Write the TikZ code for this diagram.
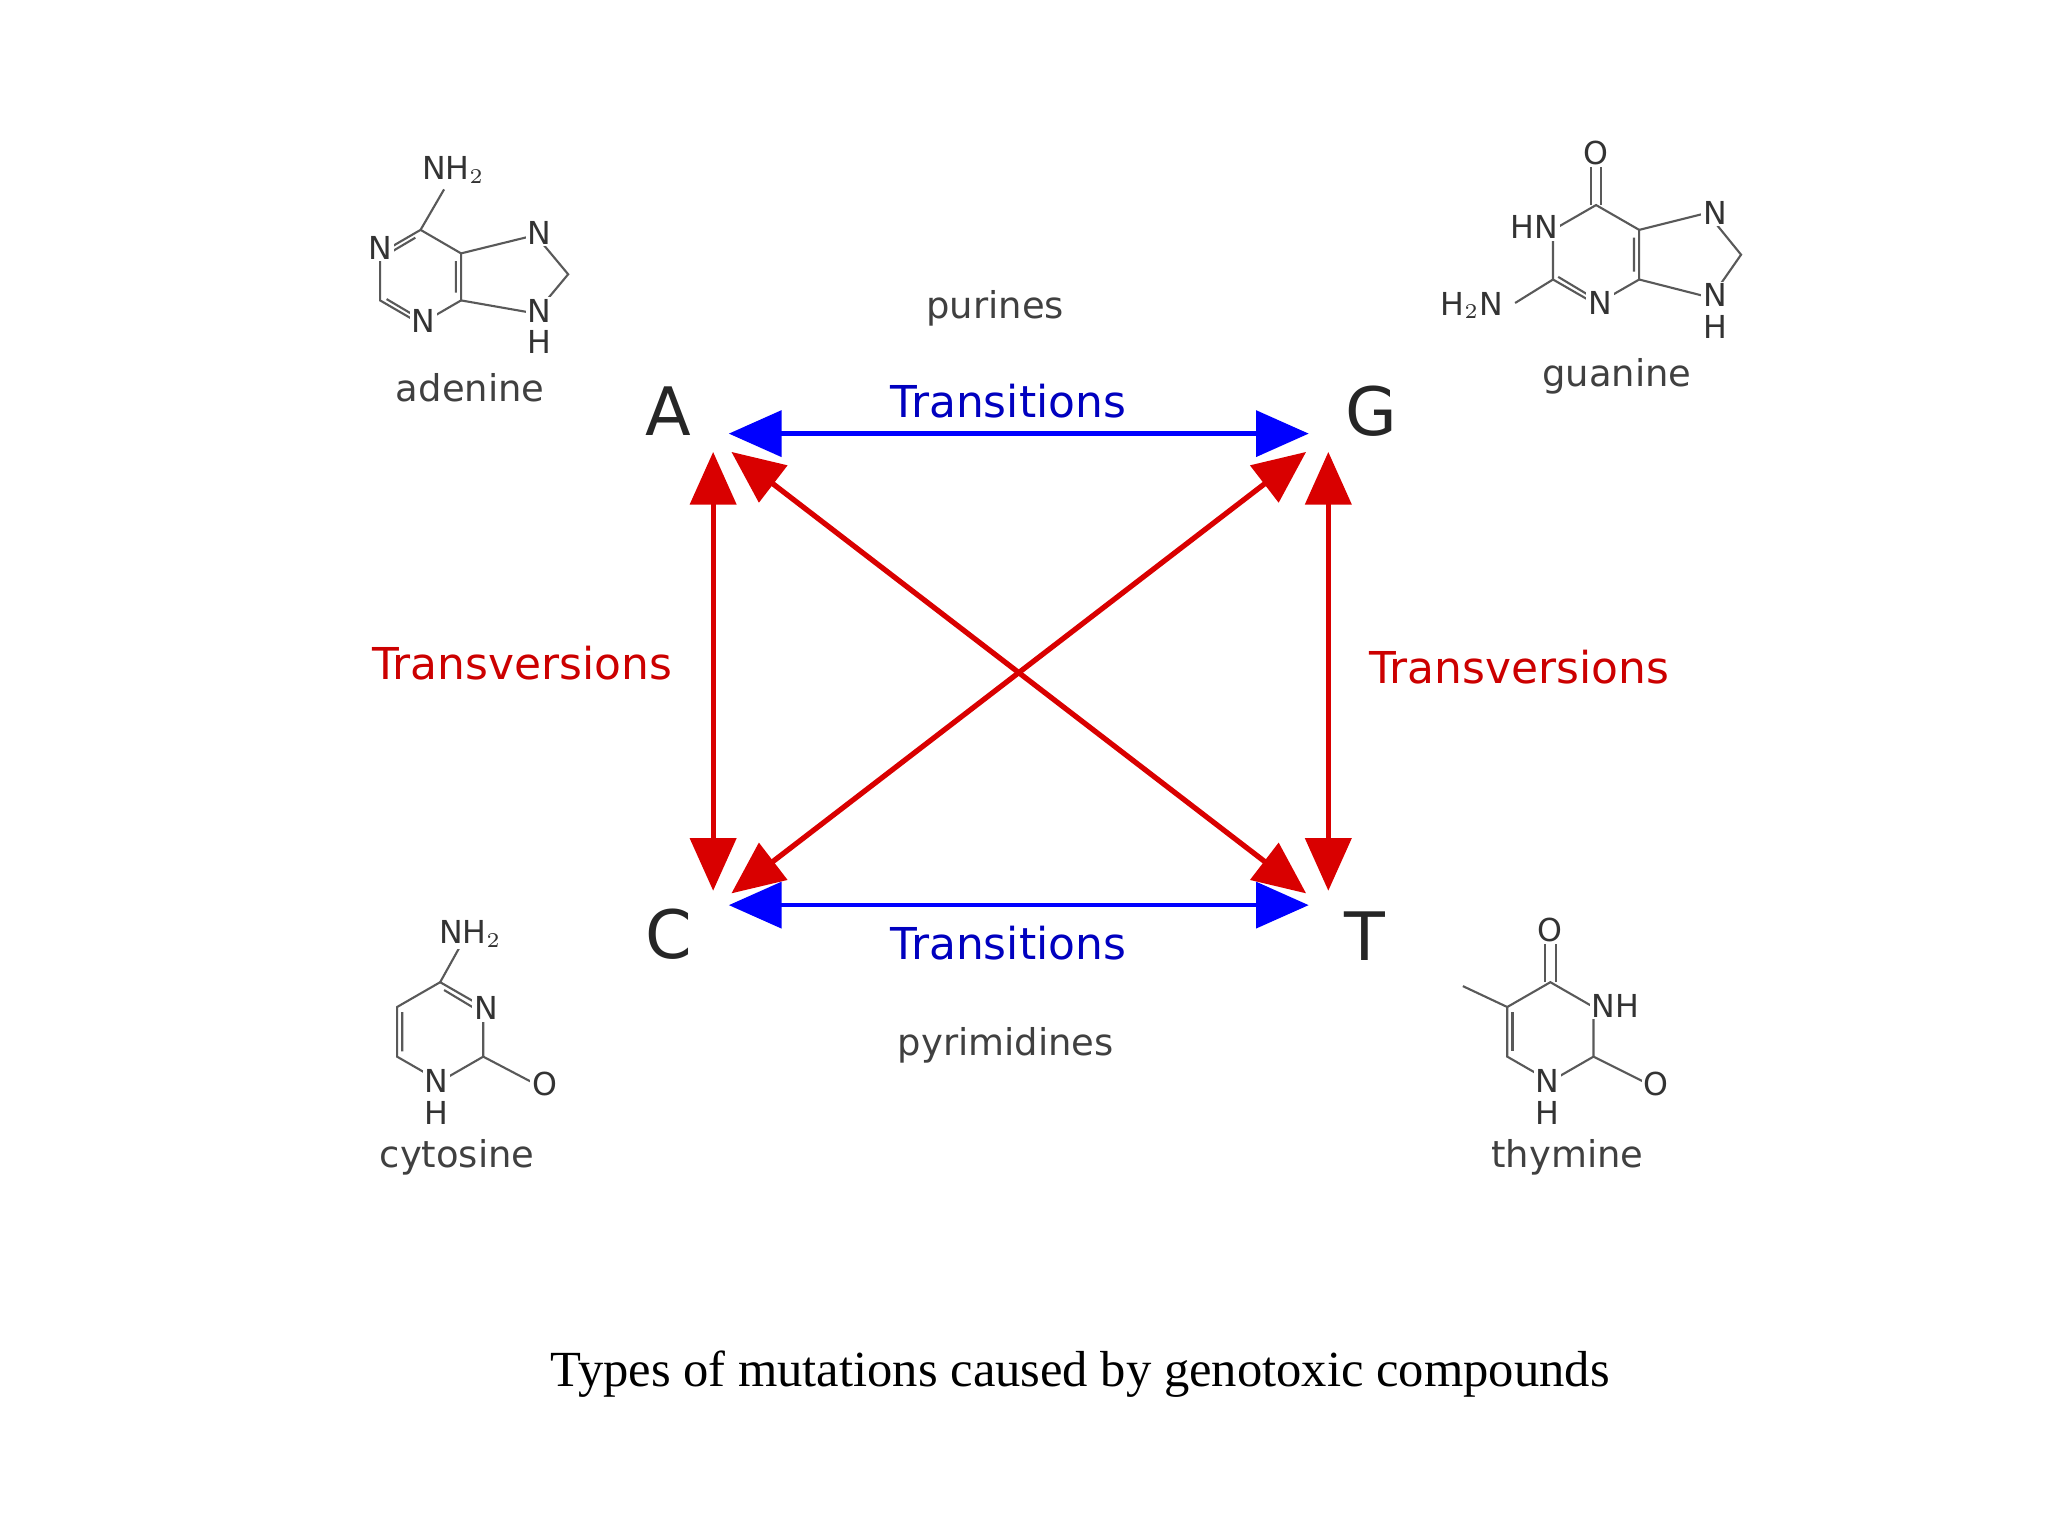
\documentclass[tikz,border=0pt]{standalone}
\usepackage{fontspec}
\setmainfont{Liberation Serif}
\newfontfamily\djsans{DejaVu Sans}
\usetikzlibrary{arrows.meta}
\begin{document}
\begin{tikzpicture}[x=0.01306cm,y=-0.01306cm,
  base/.style={font=\djsans\fontsize{19}{19}\selectfont,text=black!85},
  lbl/.style={font=\djsans\fontsize{10.5}{12}\selectfont,text=black!75},
  atom/.style={font=\djsans\fontsize{9}{10}\selectfont,text=black!80,inner sep=0.5pt,fill=white},
  stk/.style={font=\djsans\fontsize{9}{9}\selectfont,text=black!80,inner sep=0.5pt,fill=white,align=center},
  bond/.style={black!65,line width=0.6pt},
  blu/.style={blue,line width=1.3pt,{Triangle[length=15pt,width=13pt]}-{Triangle[length=15pt,width=13pt]}},
  rd/.style={red!85!black,line width=1.5pt,{Triangle[length=15pt,width=13pt]}-{Triangle[length=15pt,width=13pt]}},
  tb/.style={font=\djsans\fontsize{12.5}{14}\selectfont,text=blue!75!black},
  tr/.style={font=\djsans\fontsize{12.5}{14}\selectfont,text=red!80!black}]
\useasboundingbox (0,0) rectangle (1568,1176);
\node[base] (A) at (512,315) {A};
\node[base] (G) at (1050,315) {G};
\node[base] (C) at (512,715) {C};
\node[base] (T) at (1045,717) {T};
\coordinate (a1) at (558,332); \coordinate (g1) at (1002,332);
\coordinate (c1) at (558,693); \coordinate (t1) at (1002,693);
\coordinate (a2) at (546,346); \coordinate (c2) at (546,682);
\coordinate (g2) at (1017,346); \coordinate (t2) at (1017,682);
\coordinate (a3) at (560,346); \coordinate (t3) at (1000,684);
\coordinate (g3) at (1000,346); \coordinate (c3) at (560,684);
\draw[blu] (a1) -- (g1);
\draw[blu] (c1) -- (t1);
\draw[rd] (a2) -- (c2);
\draw[rd] (g2) -- (t2);
\draw[rd] (a3) -- (t3);
\draw[rd] (g3) -- (c3);
\node[tb] (t1l) at (772,307) {Transitions};
\node[tb] (t2l) at (772,722) {Transitions};
\node[tr] (v1) at (400,508) {Transversions};
\node[tr] (v2) at (1163,511) {Transversions};
\node[lbl] (pu) at (762,236) {purines};
\node[lbl] (py) at (770,800) {pyrimidines};
\node[lbl] (ad) at (360,297) {adenine};
\node[lbl] (gu) at (1238,288) {guanine};
\node[lbl] (cy) at (350,886) {cytosine};
\node[lbl] (th) at (1200,886) {thymine};
\node[font=\fontsize{14.4}{16}\selectfont] (cap) at (827,1052) {Types of mutations caused by genotoxic compounds};
% adenine
\draw[bond] (322,176)--(353,194)--(353,230)--(322,248)--(291,230)--(291,194)--cycle;
\draw[bond] (318,182)--(296,195) (349,200)--(349,224) (318,242)--(296,229);
\draw[bond] (353,194)--(410,180)--(435,210)--(410,240)--(353,230);
\draw[bond] (322,176)--(340,145);
\node[atom] (aN1) at (291,190) {N};
\node[atom] (aN3) at (324,246) {N};
\node[atom] (aN7) at (413,178) {N};
\node[stk] (aN9) at (413,250) {N\\H};
\node[atom] (aNH) at (347,130) {NH$_2$};
% guanine
\draw[bond] (1222,157)--(1255,176)--(1255,214)--(1222,233)--(1189,214)--(1189,176)--cycle;
\draw[bond] (1251,182)--(1251,208) (1193,212)--(1218,227);
\draw[bond] (1255,176)--(1307,163)--(1333,195)--(1310,228)--(1255,214);
\draw[bond] (1218,157)--(1218,128) (1226,157)--(1226,128);
\draw[bond] (1189,214)--(1160,232);
\node[atom] (gO) at (1222,117) {O};
\node[atom] (gHN) at (1175,174) {HN};
\node[atom] (gN3) at (1225,232) {N};
\node[atom] (gNH2) at (1127,234) {H$_2$N};
\node[atom] (gN7) at (1313,163) {N};
\node[stk] (gN9) at (1313,238) {N\\H};
% cytosine
\draw[bond] (337,752)--(370,771)--(370,809)--(337,828)--(304,809)--(304,771)--cycle;
\draw[bond] (340,758)--(365,773) (308,775)--(308,805);
\draw[bond] (370,809)--(410,830);
\draw[bond] (337,752)--(352,725);
\node[atom] (cNH2) at (360,715) {NH$_2$};
\node[atom] (cN3) at (372,772) {N};
\node[stk] (cN1) at (334,840) {N\\H};
\node[atom] (cO) at (417,830) {O};
% thymine
\draw[bond] (1187,752)--(1220,771)--(1220,809)--(1187,828)--(1154,809)--(1154,771)--cycle;
\draw[bond] (1158,775)--(1158,805);
\draw[bond] (1220,809)--(1262,830);
\draw[bond] (1154,771)--(1120,755);
\draw[bond] (1183,752)--(1183,722) (1191,752)--(1191,722);
\node[atom] (tO1) at (1187,712) {O};
\node[atom] (tNH) at (1237,770) {NH};
\node[stk] (tN1) at (1185,840) {N\\H};
\node[atom] (tO2) at (1268,830) {O};
\end{tikzpicture}
\end{document}
